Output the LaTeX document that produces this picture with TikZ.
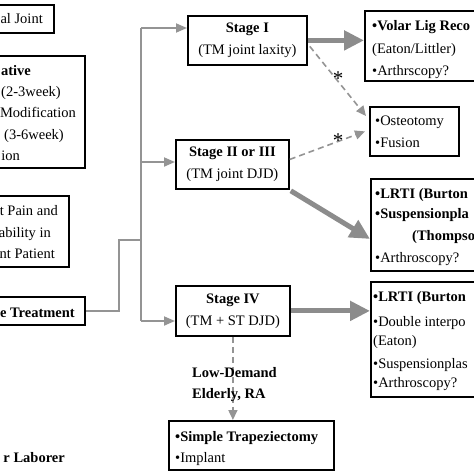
\documentclass[tikz,border=0pt]{standalone}
\usepackage{fontspec}
\setmainfont{Liberation Serif}
\usetikzlibrary{arrows.meta,calc}
\definecolor{linegray}{RGB}{148,148,148}
\definecolor{biggray}{RGB}{140,140,140}
\begin{document}
\begin{tikzpicture}[x=1pt,y=-1pt,
  font=\fontsize{14.5}{22}\selectfont,
  box/.style={draw=black, line width=1.8pt, inner sep=0pt, anchor=north west},
  stagebox/.style={box, align=center},
  txt/.style={inner sep=0pt, anchor=base west},
  txte/.style={inner sep=0pt, anchor=base east},
  conn/.style={draw=linegray, line width=1.8pt},
  smallarrow/.style={conn, -{Triangle[length=11pt,width=9pt]}},
  bigarrow/.style={draw=biggray, line width=5pt, -{Triangle[length=20pt,width=19pt]}},
  dasharrow/.style={draw=linegray, line width=1.6pt, dash pattern=on 6pt off 4pt, -{Triangle[length=10pt,width=9pt]}},
  astx/.style={inner sep=0pt, font=\fontsize{21}{21}\selectfont}
]
\useasboundingbox (0,0) rectangle (474,474);
\clip (0,0) rectangle (474,474);

% left column (cropped)
\node[box, minimum width=70pt, minimum height=28pt] (A) at (-17,4) {};
\node[txte] (At) at (43,23) {al Joint};

\node[box, minimum width=94pt, minimum height=112pt] (B) at (-10,55) {};
\node[txte] (B1) at (31,75) {\bfseries ative};
\node[txte] (B2) at (61,96) {(2-3week)};
\node[txte] (B3) at (76,117) {Modification};
\node[txte] (B4) at (64,139) {(3-6week)};
\node[txte] (B5) at (20,160) {ion};

\node[box, minimum width=78pt, minimum height=71pt] (C) at (-10,195) {};
\node[txte] (C1) at (58,215) {t Pain and};
\node[txte] (C2) at (51,237) {ability in};
\node[txte] (C3) at (55,258) {nt Patient};

\node[box, minimum width=94pt, minimum height=28pt] (D) at (-10,296) {};
\node[txte] (Dt) at (75,317) {\bfseries e Treatment};

\node[txte] (E) at (65,462) {\bfseries r Laborer};

% stages
\node[stagebox, minimum width=119pt, minimum height=49pt] (S1) at (187,15) {\bfseries Stage I\\(TM joint laxity)};
\node[stagebox, minimum width=113pt, minimum height=49pt] (S2) at (175,139) {\bfseries Stage II or III\\(TM joint DJD)};
\node[stagebox, minimum width=114pt, minimum height=50pt] (S4) at (175,285) {\bfseries Stage IV\\(TM + ST DJD)};

\node[box, minimum width=165pt, minimum height=49pt] (T) at (168,420) {};
\node[txt] (T1) at (175,441) {\bfseries •Simple Trapeziectomy};
\node[txt] (T2) at (175,462) {•Implant};

% right column
\node[box, minimum width=120pt, minimum height=70pt] (V) at (364,10) {};
\node[txt] (V1) at (372,30) {\bfseries •Volar Lig Reco};
\node[txt] (V2) at (372,53) {(Eaton/Littler)};
\node[txt] (V3) at (372,75) {•Arthrscopy?};

\node[box, minimum width=89pt, minimum height=49pt] (O) at (369,106) {};
\node[txt] (O1) at (375,125) {•Osteotomy};
\node[txt] (O2) at (375,147) {•Fusion};

\node[box, minimum width=120pt, minimum height=92pt] (L1) at (370,178) {};
\node[txt] (L11) at (375,198) {\bfseries •LRTI (Burton};
\node[txt] (L12) at (375,218) {\bfseries •Suspensionpla};
\node[txt] (L13) at (412,240) {\bfseries (Thompso};
\node[txt] (L14) at (375,262) {•Arthroscopy?};

\node[box, minimum width=120pt, minimum height=115pt] (L2) at (370,281) {};
\node[txt] (L21) at (373,301) {\bfseries •LRTI (Burton};
\node[txt] (L22) at (373,326) {•Double interpo};
\node[txt] (L23) at (373,345) {(Eaton)};
\node[txt] (L24) at (373,368) {•Suspensionplas};
\node[txt] (L25) at (373,387) {•Arthroscopy?};

% trunk
\coordinate (t1) at (141,28);
\coordinate (t2) at (141,162);
\coordinate (j) at (141,240);
\coordinate (t4) at (141,321);
\draw[conn] (t1) -- (t4);
\draw[smallarrow] (t1) -- (S1.west |- t1);
\draw[smallarrow] (t2) -- (S2.west |- t2);
\draw[smallarrow] (t4) -- (S4.west |- t4);
\draw[conn] (D.east) -- ++(33,0) |- (j);

% thick arrows
\draw[bigarrow] (S1.east) -- (V.west |- S1.east);
\draw[bigarrow] ($(S2.south east)+(1,1)$) -- ($(L1.south west)!0.35!(L1.north west)$);
\draw[bigarrow] (S4.east) -- (L2.west |- S4.east);

% dashed arrows
\draw[dasharrow] ($(S1.east)+(2,6)$) -- ($(O.north west)+(-3,10)$);
\draw[dasharrow] ($(S2.east)+(0,-5)$) -- ($(O.west)+(-4,0)$);
\node[astx] (ast1) at (338,79) {*};
\node[astx] (ast2) at (338,141) {*};

\draw[dasharrow] (S4.south) -- (S4.south |- T.north);
\node[txt] (lab1) at (192,377) {\bfseries Low-Demand};
\node[txt] (lab2) at (192,398) {\bfseries Elderly, RA};
\end{tikzpicture}
\end{document}
